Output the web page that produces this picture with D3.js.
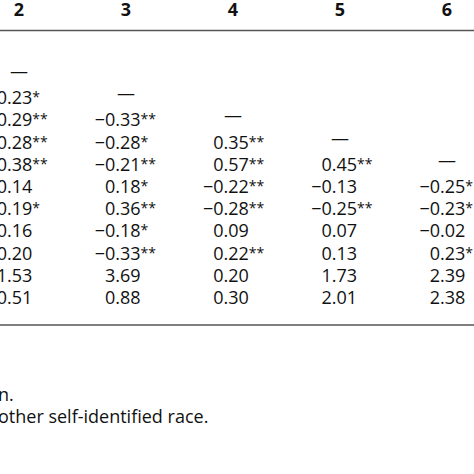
<!DOCTYPE html>
<html><head><meta charset="utf-8">
<script src="https://cdn.jsdelivr.net/npm/d3@7"></script>
<style>body{margin:0;background:#fff}text{font-family:"Open Sans",sans-serif;fill:#111}</style>
</head><body><svg id="c" width="474" height="474"></svg>
<script>
const headers = ["2","3","4","5","6"];
const col2 = ["—","0.23*","0.29**","0.28**","0.38**","0.14","0.19*","0.16","0.20","1.53","0.51"];
const col3 = ["","—","−0.33**","−0.28*","−0.21**","0.18*","0.36**","−0.18*","−0.33**","3.69","0.88"];
const col4 = ["","","—","0.35**","0.57**","−0.22**","−0.28**","0.09","0.22**","0.20","0.30"];
const col5 = ["","","","—","0.45**","−0.13","−0.25**","0.07","0.13","1.73","2.01"];
const col6 = ["","","","","—","−0.25*","−0.23*","−0.02","0.23*","2.39","2.38"];
const notes = ["n.","other self-identified race."];
const cols = [col2,col3,col4,col5,col6];
const FS = 18;

const svg = d3.select("#c");
const xHead = d3.scalePoint().domain(headers).range([19,447]);
const xDec = d3.scalePoint().domain(headers).range([7,440]);
const y = d3.scalePoint().domain(d3.range(col2.length)).range([82,304]);

svg.selectAll("text.h").data(headers).join("text").attr("class","h")
  .attr("x",d=>xHead(d)).attr("y",16).attr("text-anchor","middle")
  .attr("font-weight","bold").attr("font-size",FS).text(d=>d);
svg.append("line").attr("x1",0).attr("x2",474).attr("y1",30.5).attr("y2",30.5).attr("stroke","#555").attr("stroke-width",1.5);
svg.append("line").attr("x1",0).attr("x2",474).attr("y1",325).attr("y2",325).attr("stroke","#555").attr("stroke-width",1.5);

cols.forEach((c,ci)=>{
  const h = headers[ci];
  c.forEach((v,ri)=>{
    if(!v) return;
    const yy = y(ri);
    if(v==="—"){
      svg.append("text").attr("x",xHead(h)).attr("y",yy-4).attr("text-anchor","middle").attr("font-size",FS).text("—");
      return;
    }
    const m = v.match(/^([^.]*)(\.\d+)(\**)$/);
    svg.append("text").attr("x",xDec(h)).attr("y",yy).attr("text-anchor","end").attr("font-size",FS).text(m[1]);
    const t = svg.append("text").attr("x",xDec(h)).attr("y",yy).attr("font-size",FS);
    t.append("tspan").text(m[2]);
    if(m[3]) t.append("tspan").attr("font-size",14).attr("dy",-2).text(m[3]);
  });
});
svg.selectAll("text.n").data(notes).join("text").attr("class","n")
  .attr("x",-2).attr("y",(d,i)=>401+i*22).attr("font-size",FS).text(d=>d);
</script></body></html>
